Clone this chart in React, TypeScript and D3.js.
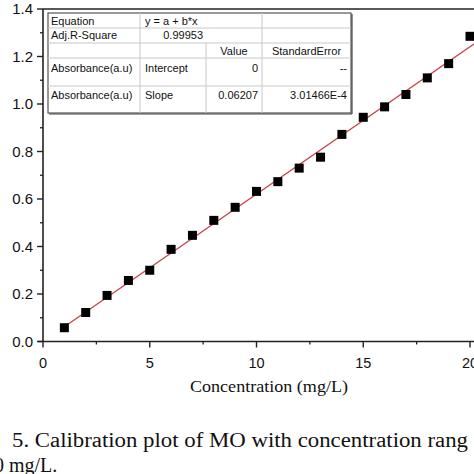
import React from 'react';
import * as d3 from 'd3';

// calibration data
const concentration = [1, 2, 3, 4, 5, 6, 7, 8, 9, 10, 11, 12, 13, 14, 15, 16, 17, 18, 19, 20];
const absorbance = [0.058, 0.122, 0.194, 0.257, 0.300, 0.388, 0.447, 0.510, 0.565, 0.632, 0.673, 0.730, 0.776, 0.872, 0.944, 0.988, 1.040, 1.110, 1.170, 1.285];

const intercept = 0;
const slope = 0.06207;

const xTicks = [0, 5, 10, 15, 20];
const xMinor = [2.5, 7.5, 12.5, 17.5];
const yTicks = [0, 0.2, 0.4, 0.6, 0.8, 1.0, 1.2, 1.4];
const yMinor = [0.1, 0.3, 0.5, 0.7, 0.9, 1.1, 1.3];

const tableRows = [
  ['Equation', 'y = a + b*x', '', ''],
  ['Adj.R-Square', '0.99953', '', ''],
  ['', '', 'Value', 'StandardError'],
  ['Absorbance(a.u)', 'Intercept', '0', '--'],
  ['Absorbance(a.u)', 'Slope', '0.06207', '3.01466E-4'],
];

const W = 474;
const H = 474;

const App = () => {
  const x = d3.scaleLinear().domain([0, 20]).range([43, 470]);
  const y = d3.scaleLinear().domain([0, 1.4]).range([341.5, 9]);
  const fmt = d3.format('.1f');

  const fitLine = d3
    .line<number>()
    .x(d => x(d))
    .y(d => y(intercept + slope * d));

  const axisFont = 'Arial, "Liberation Sans", sans-serif';

  // table geometry
  const tL = 48, tR = 351;
  const rowY = [13, 28, 43, 58, 86, 113];
  const colX = [48, 140, 206, 262, 351];
  const baselines = [25, 39, 55, 72, 99];

  return (
    <svg width={W} height={H} style={{ position: 'absolute', left: 0, top: 0, background: '#fff' }}>
      <rect width={W} height={H} fill="#fff" />

      {/* fit line */}
      <path d={fitLine([1, 20.2]) || ''} stroke="#c8414b" strokeWidth={1.3} fill="none" />

      {/* points */}
      {concentration.map((c, i) => (
        <rect key={i} x={x(c) - 4.5} y={y(absorbance[i]) - 4.5} width={9} height={9} fill="#000" />
      ))}

      {/* frame / axes */}
      <line x1={x(0)} x2={W} y1={y(1.4)} y2={y(1.4)} stroke="#222" strokeWidth={1.5} />
      <line x1={x(0)} x2={x(0)} y1={y(1.4)} y2={y(0)} stroke="#222" strokeWidth={1.6} />
      <line x1={x(0) - 5} x2={W} y1={y(0)} y2={y(0)} stroke="#222" strokeWidth={1.6} />

      {yTicks.map(t => (
        <g key={t}>
          <line x1={x(0) - 6} x2={x(0)} y1={y(t)} y2={y(t)} stroke="#222" strokeWidth={1.4} />
          <text x={33} y={y(t) + 5} textAnchor="end" fontFamily={axisFont} fontSize={15} fill="#111">
            {fmt(t)}
          </text>
        </g>
      ))}
      {yMinor.map(t => (
        <line key={t} x1={x(0) - 3} x2={x(0)} y1={y(t)} y2={y(t)} stroke="#222" strokeWidth={1.3} />
      ))}
      {xTicks.map(t => (
        <g key={t}>
          <line x1={x(t)} x2={x(t)} y1={y(0)} y2={y(0) + 6} stroke="#222" strokeWidth={1.4} />
          <text x={x(t)} y={368} textAnchor="middle" fontFamily={axisFont} fontSize={14.5} fill="#111">
            {t}
          </text>
        </g>
      ))}
      {xMinor.map(t => (
        <line key={t} x1={x(t)} x2={x(t)} y1={y(0)} y2={y(0) + 3} stroke="#222" strokeWidth={1.3} />
      ))}

      <text x={269} y={392} textAnchor="middle" fontFamily='"Liberation Serif", "DejaVu Serif", serif' fontSize={17} textLength={158} lengthAdjust="spacingAndGlyphs" fill="#111">
        Concentration (mg/L)
      </text>

      {/* table */}
      <g fontFamily={axisFont} fontSize={11} fill="#111">
        <rect x={tL} y={rowY[0]} width={tR - tL} height={rowY[5] - rowY[0]} fill="#fff" stroke="#555" strokeWidth={1.2} />
        {rowY.slice(1, 5).map(r => (
          <line key={r} x1={tL} x2={tR} y1={r} y2={r} stroke="#c8c8c8" strokeWidth={1} />
        ))}
        <line x1={colX[1]} x2={colX[1]} y1={rowY[0]} y2={rowY[5]} stroke="#c8c8c8" />
        <line x1={colX[2]} x2={colX[2]} y1={rowY[2]} y2={rowY[5]} stroke="#c8c8c8" />
        <line x1={colX[3]} x2={colX[3]} y1={rowY[0]} y2={rowY[5]} stroke="#c8c8c8" />
        <line x1={tR + 1} x2={tR + 1} y1={rowY[0] + 1} y2={rowY[5] + 1} stroke="#444" strokeWidth={1.2} />
        <line x1={tL + 1} x2={tR + 1} y1={rowY[5] + 1} y2={rowY[5] + 1} stroke="#444" strokeWidth={1.2} />

        {tableRows.map((row, i) => {
          const b = baselines[i];
          const cells = [];
          cells.push(<text key="a" x={colX[0] + 3} y={b}>{row[0]}</text>);
          if (i === 1) {
            cells.push(<text key="b" x={colX[2] - 3} y={b} textAnchor="end">{row[1]}</text>);
          } else {
            cells.push(<text key="b" x={colX[1] + 5} y={b}>{row[1]}</text>);
          }
          if (i === 2) {
            cells.push(<text key="c" x={(colX[2] + colX[3]) / 2} y={b} textAnchor="middle">{row[2]}</text>);
            cells.push(<text key="d" x={(colX[3] + colX[4]) / 2} y={b} textAnchor="middle">{row[3]}</text>);
          } else if (i > 2) {
            cells.push(<text key="c" x={colX[3] - 4} y={b} textAnchor="end">{row[2]}</text>);
            cells.push(<text key="d" x={colX[4] - 4} y={b} textAnchor="end">{row[3]}</text>);
          }
          return <g key={i}>{cells}</g>;
        })}
      </g>

      {/* caption (cropped, as in the reference) */}
      <g fontFamily='"Liberation Serif", "DejaVu Serif", serif' fontSize={20} fill="#111">
        <text x={12} y={447} textLength={456} lengthAdjust="spacingAndGlyphs">5. Calibration plot of MO with concentration rang</text>
        <text x={-6} y={472}>0 mg/L.</text>
      </g>
    </svg>
  );
};

export default App;
